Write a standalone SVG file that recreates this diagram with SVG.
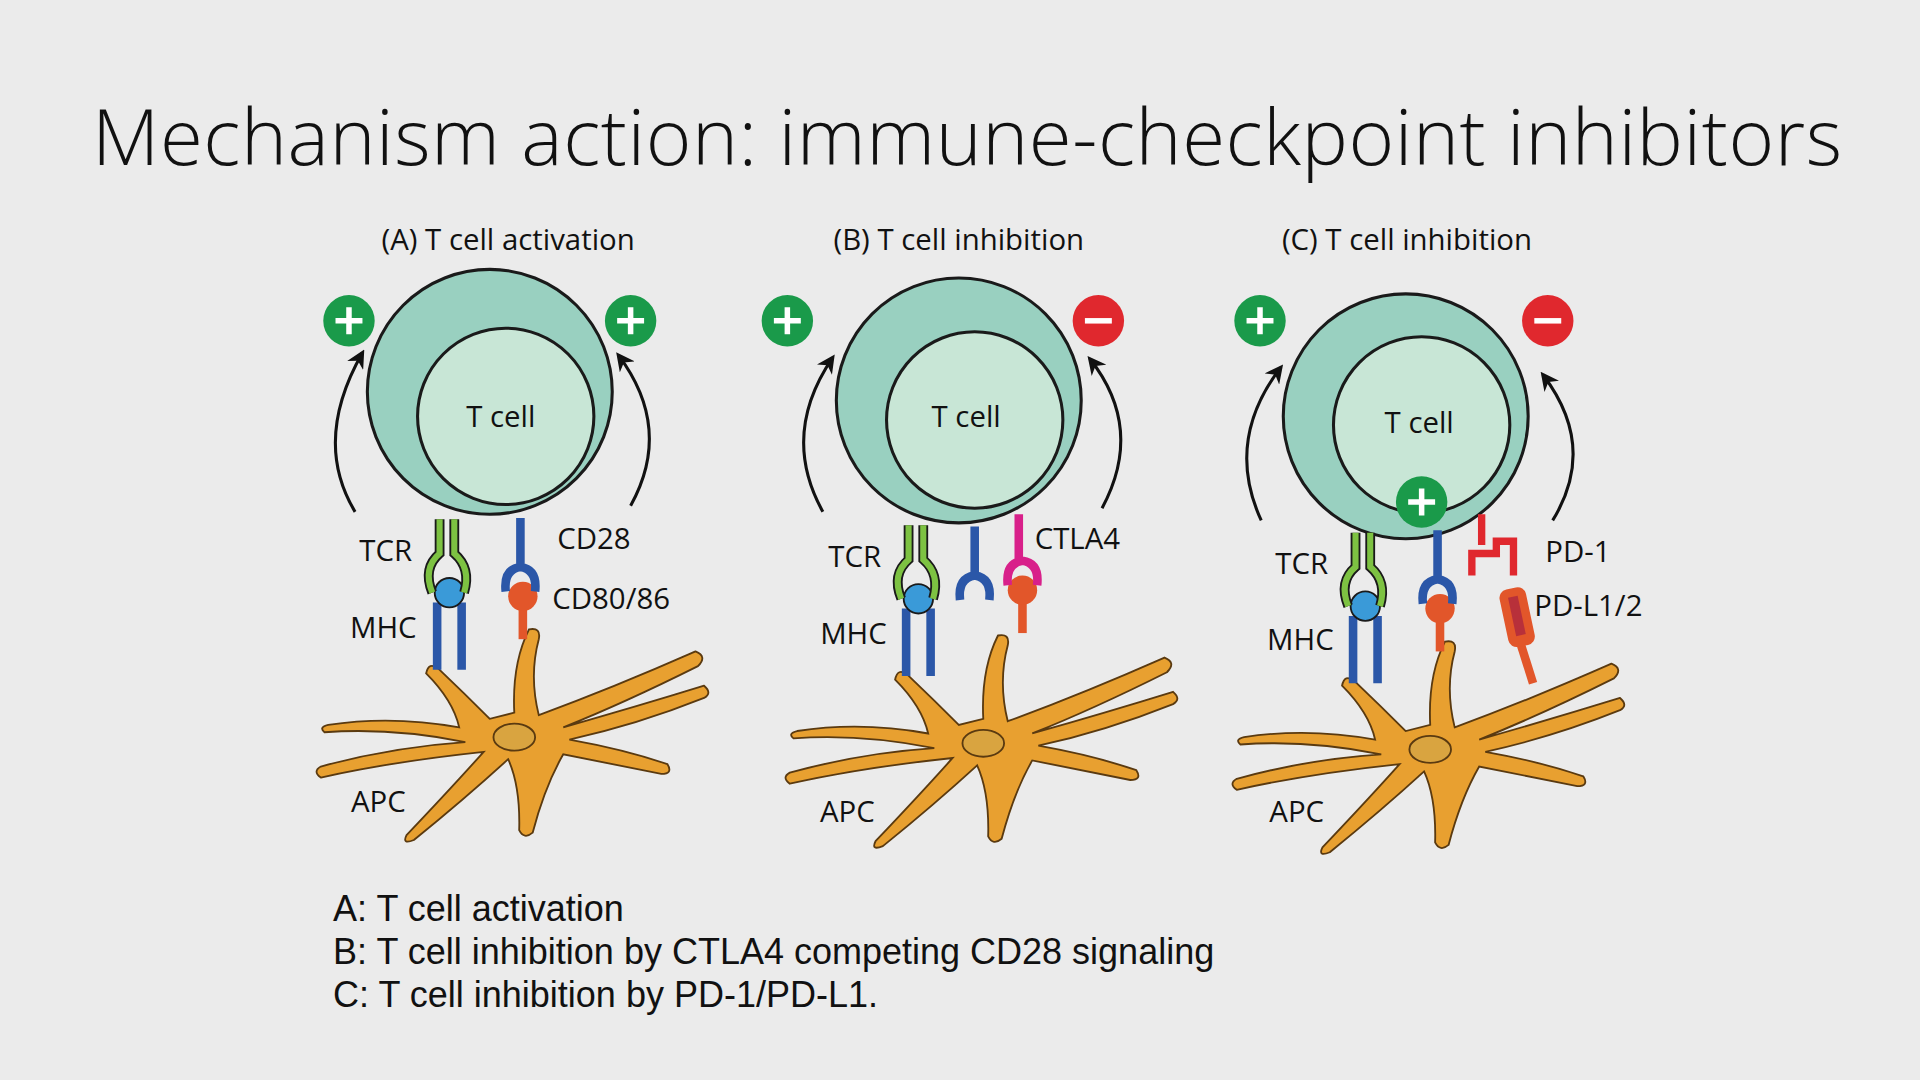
<svg xmlns="http://www.w3.org/2000/svg" xmlns:xlink="http://www.w3.org/1999/xlink" width="1920" height="1080" viewBox="0 0 1920 1080">
<style>
.t{font-family:"Open Sans","Liberation Sans",sans-serif;fill:#111}
.lb{font-family:"Open Sans","Liberation Sans",sans-serif;font-size:24px;fill:#111}
.cap{font-family:"Liberation Sans",Arial,sans-serif;font-size:29.4px;fill:#111}
.outer{fill:#99d0c0;stroke:#1a1a1a;stroke-width:2.5}
.inner{fill:#c8e6d6;stroke:#1a1a1a;stroke-width:2.5}
.arr{fill:none;stroke:#111;stroke-width:2.5;marker-end:url(#ah)}
.blue{fill:none;stroke:#2b57a8;stroke-width:7}
.or{fill:none;stroke:#e2562a;stroke-width:7}
</style>
<defs>
<marker id="ah" viewBox="0 0 10 10" refX="8" refY="5" markerWidth="6" markerHeight="6" orient="auto"><path d="M0,0 L10,5 L0,10 L3,5 Z" fill="#111"/></marker>
<g id="apc">
<path d="M0,-20 Q-2,-60 12,-88 Q22,-90 20,-80 Q12,-50 20,-18 Q80,-40 148,-70 Q158,-66 150,-58 Q90,-28 40,-8 Q100,-25 155,-42 Q162,-36 155,-32 Q100,-10 45,2 Q90,10 125,22 Q130,30 120,30 Q80,22 40,14 Q25,40 15,78 Q8,84 4,76 Q5,40 -5,18 Q-40,50 -82,84 Q-92,88 -88,80 Q-50,40 -25,12 Q-100,20 -158,33 Q-165,28 -158,24 Q-100,8 -40,4 Q-100,-8 -155,-4 Q-160,-8 -152,-10 Q-100,-18 -45,-8 Q-50,-30 -72,-52 Q-70,-62 -62,-56 Q-40,-35 -20,-15 Z" fill="#e8a030" stroke="#5a3a10" stroke-width="1.5"/>
<ellipse cx="0" cy="0" rx="17" ry="11" fill="#d9a440" stroke="#5a3a10" stroke-width="1.5"/>
</g>
<g id="plus"><circle r="21" fill="#1a9a4a"/><path d="M-11,0 H11 M0,-11 V11" stroke="#fff" stroke-width="4.5"/></g>
<g id="minus"><circle r="21" fill="#e0282e"/><path d="M-11,0 H11" stroke="#fff" stroke-width="4.5"/></g>
<g id="tcrmhc">
<path d="M-10,0 V55 M10,0 V55" stroke="#2b57a8" stroke-width="7"/>
<circle cx="0" cy="-8" r="12" fill="#3a9ad8" stroke="#1a1a1a" stroke-width="1.5"/>
<path d="M-8,-68 V-40 Q-22,-28 -14,-8 M4,-68 V-40 Q18,-28 12,-8" fill="none" stroke="#1a1a1a" stroke-width="8"/>
<path d="M-8,-68 V-40 Q-22,-28 -14,-8 M4,-68 V-40 Q18,-28 12,-8" fill="none" stroke="#7dc242" stroke-width="5"/>
</g>
<g id="cup"><path d="M0,-62 V-22 M-12,-2 Q-14,-20 0,-22 Q14,-20 12,-2" fill="none" stroke="#2b57a8" stroke-width="7"/></g>
<g id="lig"><path d="M0,0 V35" class="or"/><circle r="12" fill="#e2562a"/></g>
</defs>
<rect width="1920" height="1080" fill="#ebebeb"/>
<text x="967" y="165" text-anchor="middle" class="t" font-size="78" font-weight="300" textLength="1750">Mechanism action: immune-checkpoint inhibitors</text>
<g transform="scale(1.2245)">
<g id="panelA">
<text x="415" y="204" text-anchor="middle" class="lb">(A) T cell activation</text>
<circle cx="400" cy="320" r="100" class="outer"/><circle cx="413" cy="340" r="72" class="inner"/>
<text x="409" y="349" text-anchor="middle" class="lb">T cell</text>
<use xlink:href="#apc" x="420" y="602"/>
<use xlink:href="#tcrmhc" x="367" y="492"/>
<use xlink:href="#lig" x="427" y="487"/><use xlink:href="#cup" x="425" y="485"/>
<use xlink:href="#plus" x="285" y="262"/><use xlink:href="#plus" x="515" y="262"/>
<text x="315" y="458" text-anchor="middle" class="lb">TCR</text>
<text x="313" y="521" text-anchor="middle" class="lb">MHC</text>
<text x="455" y="448" class="lb">CD28</text>
<text x="451" y="497" class="lb">CD80/86</text>
<text x="309" y="663" text-anchor="middle" class="lb">APC</text>
</g>
<g id="panelB">
<text x="783" y="204" text-anchor="middle" class="lb">(B) T cell inhibition</text>
<circle cx="783" cy="327" r="100" class="outer"/><circle cx="796" cy="343" r="72" class="inner"/>
<text x="789" y="349" text-anchor="middle" class="lb">T cell</text>
<use xlink:href="#apc" x="803" y="607"/>
<use xlink:href="#tcrmhc" x="750" y="497"/>
<use xlink:href="#cup" x="796" y="492"/>
<use xlink:href="#lig" x="835" y="482"/>
<path d="M832,420 V458 M823,478 Q821,460 835,458 Q849,460 847,478" fill="none" stroke="#d8208a" stroke-width="7"/>
<use xlink:href="#plus" x="643" y="262"/><use xlink:href="#minus" x="897" y="262"/>
<text x="698" y="463" text-anchor="middle" class="lb">TCR</text>
<text x="697" y="526" text-anchor="middle" class="lb">MHC</text>
<text x="845" y="448" class="lb">CTLA4</text>
<text x="692" y="671" text-anchor="middle" class="lb">APC</text>
</g>
<g id="panelC">
<text x="1149" y="204" text-anchor="middle" class="lb">(C) T cell inhibition</text>
<circle cx="1148" cy="340" r="100" class="outer"/><circle cx="1161" cy="347" r="72" class="inner"/>
<text x="1159" y="354" text-anchor="middle" class="lb">T cell</text>
<use xlink:href="#apc" x="1168" y="612"/>
<use xlink:href="#tcrmhc" x="1115" y="503"/>
<use xlink:href="#lig" x="1176" y="497"/><use xlink:href="#cup" x="1174" y="495"/>
<path d="M1210,420 V445 M1202,470 V452 H1222 V442 H1236 V470" fill="none" stroke="#e0282e" stroke-width="6"/>
<path d="M1240,520 L1252,558" class="or"/>
<rect x="1228" y="480" width="22" height="48" rx="7" fill="#e2562a" transform="rotate(-12 1239 504)"/>
<rect x="1235" y="487" width="8" height="32" fill="#b8303a" transform="rotate(-12 1239 504)"/>
<use xlink:href="#plus" x="1161" y="410"/>
<use xlink:href="#plus" x="1029" y="262"/><use xlink:href="#minus" x="1264" y="262"/>
<text x="1063" y="469" text-anchor="middle" class="lb">TCR</text>
<text x="1062" y="531" text-anchor="middle" class="lb">MHC</text>
<text x="1262" y="459" class="lb">PD-1</text>
<text x="1253" y="503" class="lb">PD-L1/2</text>
<text x="1059" y="671" text-anchor="middle" class="lb">APC</text>
</g>
<g id="connectors">
<path d="M290,418 Q255,360 296,288" class="arr"/>
<path d="M515,413 Q550,350 505,290" class="arr"/>
<path d="M672,418 Q637,355 680,292" class="arr"/>
<path d="M900,415 Q935,350 890,293" class="arr"/>
<path d="M1030,425 Q1000,360 1046,300" class="arr"/>
<path d="M1268,425 Q1305,365 1260,306" class="arr"/>
</g>
<text x="272" y="752" class="cap">A: T cell activation</text>
<text x="272" y="787" class="cap">B: T cell inhibition by CTLA4 competing CD28 signaling</text>
<text x="272" y="822" class="cap">C: T cell inhibition by PD-1/PD-L1.</text>
</g>
</svg>
